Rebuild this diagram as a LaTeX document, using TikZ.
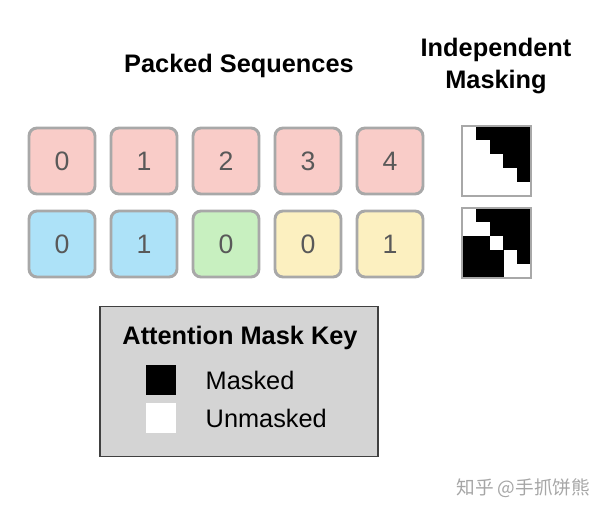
\documentclass[tikz,border=0pt]{standalone}
\usepackage{fontspec}
\setmainfont{Liberation Sans}
\newfontfamily\cjk{Noto Sans CJK SC}
\definecolor{pk}{HTML}{F9CCC8}
\definecolor{bl}{HTML}{ADE2F8}
\definecolor{gr}{HTML}{C8F0C0}
\definecolor{ye}{HTML}{FCF0C0}
\definecolor{bd}{HTML}{A8A8A8}
\begin{document}
\begin{tikzpicture}[x=0.75pt,y=-0.75pt,
  cell/.style={draw=bd,line width=2.2pt,rounded corners=6pt,minimum width=49.5pt,minimum height=49.5pt,font=\fontsize{20}{23}\selectfont,text=black!65,inner sep=0},
  ttl/.style={font=\bfseries\fontsize{19}{24}\selectfont,align=center}]
\useasboundingbox (0,0) rectangle (608,514);
\node[ttl] (t1) at (239,66) {Packed Sequences};
\node[ttl] (t2) at (496,66) {Independent\\Masking};
\foreach \i/\v in {0/0,1/1,2/2,3/3,4/4}{
  \node[cell,fill=pk] (a\i) at (62+82*\i,161) {\v};}
\node[cell,fill=bl] (b0) at (62,244) {0};
\node[cell,fill=bl] (b1) at (144,244) {1};
\node[cell,fill=gr] (b2) at (226,244) {0};
\node[cell,fill=ye] (b3) at (308,244) {0};
\node[cell,fill=ye] (b4) at (390,244) {1};
% matrix 1
\fill[white] (462,126) rectangle (531,196);
\foreach \r in {0,...,4}{\foreach \c in {0,...,4}{
  \ifnum\c>\r \fill[black] (462+13.8*\c,126+14*\r) rectangle ++(13.9,14.1);\fi}}
\draw[bd,line width=2.2pt] (462,126) rectangle (531,196);
% matrix 2
\fill[white] (462,208) rectangle (531,278);
\foreach \r/\c in {0/1,0/2,0/3,0/4,1/2,1/3,1/4,2/0,2/1,2/3,2/4,3/0,3/1,3/2,3/4,4/0,4/1,4/2}{
  \fill[black] (462+13.8*\c,208+14*\r) rectangle ++(13.9,14.1);}
\draw[bd,line width=2.2pt] (462,208) rectangle (531,278);
% key
\node[draw=black!75,line width=0.8pt,fill=black!17,minimum width=208.5pt,minimum height=113pt] (key) at (239,381.5) {};
\node[ttl] (kt) at (240,338) {Attention Mask Key};
\node[fill=black,minimum width=22.5pt,minimum height=22.5pt,inner sep=0] (m) at (161,380) {};
\node[fill=white,minimum width=22.5pt,minimum height=22.5pt,inner sep=0] (u) at (161,418) {};
\node[anchor=west,font=\fontsize{19}{21}\selectfont] (ml) at (201,380) {Masked};
\node[anchor=west,font=\fontsize{19}{21}\selectfont] (ul) at (201,418) {Unmasked};
\node[anchor=east,text=black!35,font=\cjk\fontsize{14}{16}\selectfont] (wm) at (595,488) {知乎 @手抓饼熊};
\end{tikzpicture}
\end{document}
